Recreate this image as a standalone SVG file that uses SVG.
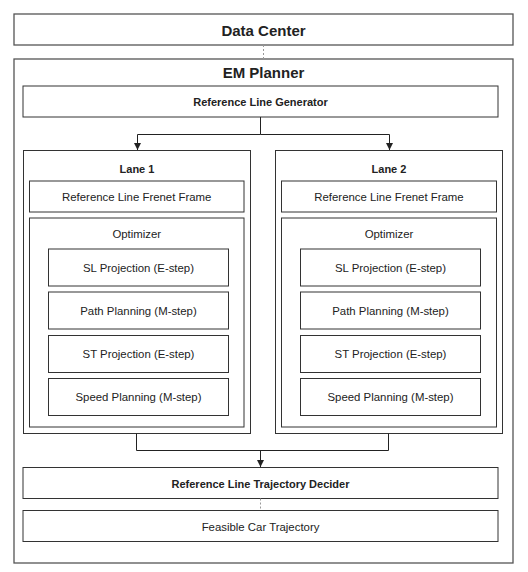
<svg xmlns="http://www.w3.org/2000/svg" width="528" height="572" viewBox="0 0 528 572">
<style>
.box{fill:#fff;stroke:#333;stroke-width:1}
.outer{fill:#fff;stroke:#555;stroke-width:1.3}
.t{font-family:"Liberation Sans",Arial,sans-serif;font-size:11.4px;fill:#222;text-anchor:middle;dominant-baseline:central}
.b{font-weight:bold;font-size:11px}
.big{font-size:15px}
.conn{fill:none;stroke:#222;stroke-width:1}
.dash{fill:none;stroke:#999;stroke-width:1;stroke-dasharray:2 2}
</style>
<defs>
<marker id="arr" viewBox="0 0 8 8" refX="8" refY="4" markerWidth="7" markerHeight="7" markerUnits="userSpaceOnUse" orient="auto">
<path d="M0,0 L8,4 L0,8 z" fill="#222"/>
</marker>
</defs>
<rect width="528" height="572" fill="#fff"/>
<g id="data-center">
<rect class="outer" x="14" y="14" width="499" height="31"/>
<text class="t b big" x="263.5" y="30">Data Center</text>
</g>
<g id="em-planner">
<rect class="outer" x="14" y="59" width="499" height="504"/>
<text class="t b big" x="263.5" y="72">EM Planner</text>
</g>
<g id="ref-line-generator">
<rect class="box" x="23" y="86" width="475" height="31"/>
<text class="t b" x="260.5" y="102">Reference Line Generator</text>
</g>
<g id="lane1">
<rect class="box" x="23.5" y="150.5" width="227" height="283"/>
<text class="t b" x="137" y="169">Lane 1</text>
<g id="lane1-frenet">
<rect class="box" x="29.5" y="181" width="214.5" height="31"/>
<text class="t" x="136.75" y="197">Reference Line Frenet Frame</text>
</g>
<g id="lane1-optimizer">
<rect class="box" x="29.5" y="218" width="214.5" height="209"/>
<text class="t" x="136.75" y="234">Optimizer</text>
</g>
<g id="lane1-sl">
<rect class="box" x="48.5" y="249" width="180" height="37"/>
<text class="t" x="138.5" y="267.5">SL Projection (E-step)</text>
</g>
<g id="lane1-path">
<rect class="box" x="48.5" y="292" width="180" height="37"/>
<text class="t" x="138.5" y="310.5">Path Planning (M-step)</text>
</g>
<g id="lane1-st">
<rect class="box" x="48.5" y="335.5" width="180" height="37"/>
<text class="t" x="138.5" y="354">ST Projection (E-step)</text>
</g>
<g id="lane1-speed">
<rect class="box" x="48.5" y="378.5" width="180" height="37"/>
<text class="t" x="138.5" y="397">Speed Planning (M-step)</text>
</g>
</g>
<g id="lane2">
<rect class="box" x="275.5" y="150.5" width="227" height="283"/>
<text class="t b" x="389" y="169">Lane 2</text>
<g id="lane2-frenet">
<rect class="box" x="281.5" y="181" width="215" height="31"/>
<text class="t" x="389" y="197">Reference Line Frenet Frame</text>
</g>
<g id="lane2-optimizer">
<rect class="box" x="281.5" y="218" width="215" height="209"/>
<text class="t" x="389" y="234">Optimizer</text>
</g>
<g id="lane2-sl">
<rect class="box" x="300.5" y="249" width="180" height="37"/>
<text class="t" x="390.5" y="267.5">SL Projection (E-step)</text>
</g>
<g id="lane2-path">
<rect class="box" x="300.5" y="292" width="180" height="37"/>
<text class="t" x="390.5" y="310.5">Path Planning (M-step)</text>
</g>
<g id="lane2-st">
<rect class="box" x="300.5" y="335.5" width="180" height="37"/>
<text class="t" x="390.5" y="354">ST Projection (E-step)</text>
</g>
<g id="lane2-speed">
<rect class="box" x="300.5" y="378.5" width="180" height="37"/>
<text class="t" x="390.5" y="397">Speed Planning (M-step)</text>
</g>
</g>
<g id="decider">
<rect class="box" x="23" y="467.5" width="475" height="31"/>
<text class="t b" x="260.5" y="483.5">Reference Line Trajectory Decider</text>
</g>
<g id="feasible">
<rect class="box" x="23" y="510.5" width="475" height="31"/>
<text class="t" x="260.5" y="526.5">Feasible Car Trajectory</text>
</g>
<g id="connectors">
<path class="dash" d="M263.5,45 V59"/>
<path class="conn" d="M260.5,117 V134.5 H137.5 V150" marker-end="url(#arr)"/>
<path class="conn" d="M260.5,134.5 H389.5 V150" marker-end="url(#arr)"/>
<path class="conn" d="M136.5,433.5 V450.5 H388.5 V433.5"/>
<path class="conn" d="M260.5,450.5 V467" marker-end="url(#arr)"/>
<path class="dash" d="M260.5,498.5 V510.5"/>
</g>
</svg>
